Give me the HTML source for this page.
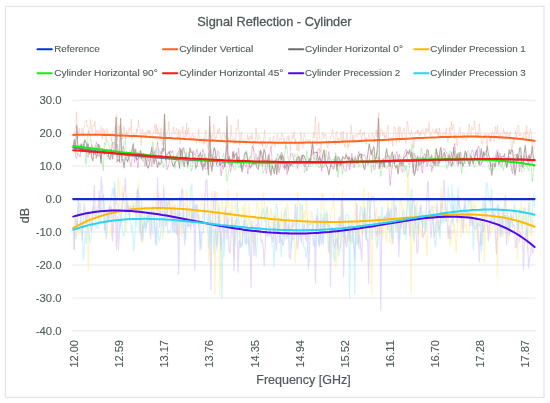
<!DOCTYPE html>
<html><head><meta charset="utf-8"><style>
html,body{margin:0;padding:0;background:#fff;}
svg{display:block;}
text{font-family:"Liberation Sans",sans-serif;fill:#505A5A;stroke:#505A5A;stroke-width:0.1px;}
.t{stroke-width:0.3px;}
.t2{stroke-width:0.2px;}
.lab text{font-size:10.4px;}
.leg text{font-size:9.8px;}
</style></head><body>
<svg width="550" height="403" viewBox="0 0 550 403">
<defs><filter id="bl" x="0" y="0" width="1" height="1"><feGaussianBlur stdDeviation="0.35"/></filter></defs>
<rect x="0" y="0" width="550" height="403" fill="#fff"/>
<rect x="5.4" y="6.4" width="538.6" height="391" fill="#fff" stroke="#E2E6E6" stroke-width="1.3"/>
<text class="t" x="197.3" y="25.8" textLength="154.3" lengthAdjust="spacingAndGlyphs" style="font-size:12.9px">Signal Reflection - Cylinder</text>
<g class="leg"><path d="M37.5 49.3H51.8" stroke="#0C30D8" stroke-width="2.1" stroke-linecap="round"/>
<text x="54.2" y="52.4" textLength="45.6" lengthAdjust="spacingAndGlyphs">Reference</text>
<path d="M163.0 49.3H177.3" stroke="#FF6420" stroke-width="2.1" stroke-linecap="round"/>
<text x="179.2" y="52.4" textLength="74.1" lengthAdjust="spacingAndGlyphs">Cylinder Vertical</text>
<path d="M289.0 49.3H303.3" stroke="#6E6E6E" stroke-width="2.1" stroke-linecap="round"/>
<text x="304.9" y="52.4" textLength="98.1" lengthAdjust="spacingAndGlyphs">Cylinder Horizontal 0°</text>
<path d="M414.3 49.3H428.6" stroke="#FFBA00" stroke-width="2.1" stroke-linecap="round"/>
<text x="430.3" y="52.4" textLength="95.5" lengthAdjust="spacingAndGlyphs">Cylinder Precession 1</text>
<path d="M37.5 73.3H51.8" stroke="#18EC18" stroke-width="2.1" stroke-linecap="round"/>
<text x="54.2" y="76.4" textLength="103.6" lengthAdjust="spacingAndGlyphs">Cylinder Horizontal 90°</text>
<path d="M163.0 73.3H177.3" stroke="#FF1616" stroke-width="2.1" stroke-linecap="round"/>
<text x="179.2" y="76.4" textLength="104.2" lengthAdjust="spacingAndGlyphs">Cylinder Horizontal 45°</text>
<path d="M289.0 73.3H303.3" stroke="#5008EE" stroke-width="2.1" stroke-linecap="round"/>
<text x="304.9" y="76.4" textLength="95.4" lengthAdjust="spacingAndGlyphs">Cylinder Precession 2</text>
<path d="M414.3 73.3H428.6" stroke="#2CD2F2" stroke-width="2.1" stroke-linecap="round"/>
<text x="430.3" y="76.4" textLength="95.5" lengthAdjust="spacingAndGlyphs">Cylinder Precession 3</text></g>
<g><path d="M72.5 100.2H535.5" stroke="#E6E8EA" stroke-width="1" fill="none"/>
<path d="M72.5 133.2H535.5" stroke="#E6E8EA" stroke-width="1" fill="none"/>
<path d="M72.5 166.1H535.5" stroke="#E6E8EA" stroke-width="1" fill="none"/>
<path d="M72.5 199.1H535.5" stroke="#E6E8EA" stroke-width="1" fill="none"/>
<path d="M72.5 232.0H535.5" stroke="#E6E8EA" stroke-width="1" fill="none"/>
<path d="M72.5 265.0H535.5" stroke="#E6E8EA" stroke-width="1" fill="none"/>
<path d="M72.5 298.0H535.5" stroke="#E6E8EA" stroke-width="1" fill="none"/>
<path d="M72.5 330.9H535.5" stroke="#E6E8EA" stroke-width="1" fill="none"/></g>
<g class="lab"><text x="39.4" y="103.9" textLength="22.2" lengthAdjust="spacingAndGlyphs">30.0</text>
<text x="39.4" y="136.9" textLength="22.2" lengthAdjust="spacingAndGlyphs">20.0</text>
<text x="39.4" y="169.8" textLength="22.2" lengthAdjust="spacingAndGlyphs">10.0</text>
<text x="45.6" y="202.8" textLength="16.0" lengthAdjust="spacingAndGlyphs">0.0</text>
<text x="35.8" y="235.7" textLength="25.8" lengthAdjust="spacingAndGlyphs">-10.0</text>
<text x="35.8" y="268.7" textLength="25.8" lengthAdjust="spacingAndGlyphs">-20.0</text>
<text x="35.8" y="301.7" textLength="25.8" lengthAdjust="spacingAndGlyphs">-30.0</text>
<text x="35.8" y="334.6" textLength="25.8" lengthAdjust="spacingAndGlyphs">-40.0</text></g>
<g class="lab"><text transform="translate(78.20 367.6) rotate(-90)" x="0" y="0" textLength="27.6" lengthAdjust="spacingAndGlyphs">12.00</text>
<text transform="translate(123.29 367.6) rotate(-90)" x="0" y="0" textLength="27.6" lengthAdjust="spacingAndGlyphs">12.59</text>
<text transform="translate(168.38 367.6) rotate(-90)" x="0" y="0" textLength="27.6" lengthAdjust="spacingAndGlyphs">13.17</text>
<text transform="translate(213.47 367.6) rotate(-90)" x="0" y="0" textLength="27.6" lengthAdjust="spacingAndGlyphs">13.76</text>
<text transform="translate(258.56 367.6) rotate(-90)" x="0" y="0" textLength="27.6" lengthAdjust="spacingAndGlyphs">14.35</text>
<text transform="translate(303.65 367.6) rotate(-90)" x="0" y="0" textLength="27.6" lengthAdjust="spacingAndGlyphs">14.94</text>
<text transform="translate(348.74 367.6) rotate(-90)" x="0" y="0" textLength="27.6" lengthAdjust="spacingAndGlyphs">15.52</text>
<text transform="translate(393.83 367.6) rotate(-90)" x="0" y="0" textLength="27.6" lengthAdjust="spacingAndGlyphs">16.11</text>
<text transform="translate(438.92 367.6) rotate(-90)" x="0" y="0" textLength="27.6" lengthAdjust="spacingAndGlyphs">16.70</text>
<text transform="translate(484.01 367.6) rotate(-90)" x="0" y="0" textLength="27.6" lengthAdjust="spacingAndGlyphs">17.28</text>
<text transform="translate(529.10 367.6) rotate(-90)" x="0" y="0" textLength="27.6" lengthAdjust="spacingAndGlyphs">17.87</text></g>
<g filter="url(#bl)"><path d="M73.2 137.4L73.9 133.8L74.5 131.7L75.2 127.3L75.8 127.9L76.5 111.6L77.2 130.1L77.8 139.0L78.5 133.1L79.1 128.0L79.8 133.1L80.5 135.2L81.1 133.6L81.8 127.9L82.4 129.0L83.1 135.6L83.8 127.3L84.4 126.6L85.1 121.7L85.7 121.2L86.4 120.0L87.1 126.5L87.7 125.4L88.4 130.4L89.0 133.6L89.7 131.7L90.4 119.4L91.0 123.4L91.7 130.7L92.3 132.7L93.0 125.0L93.7 126.1L94.3 126.2L95.0 121.2L95.6 135.5L96.3 130.9L97.0 130.1L97.6 136.5L98.3 131.6L98.9 130.3L99.6 132.6L100.3 132.9L100.9 126.5L101.6 129.7L102.2 139.2L102.9 128.1L103.6 132.8L104.2 135.1L104.9 129.6L105.5 138.0L106.2 141.1L106.9 128.4L107.5 129.9L108.2 135.5L108.8 133.0L109.5 135.4L110.2 133.9L110.8 135.7L111.5 141.3L112.1 132.8L112.8 132.0L113.5 130.9L114.1 132.2L114.8 127.2L115.4 127.0L116.1 130.4L116.8 114.6L117.4 140.7L118.1 129.1L118.7 125.7L119.4 134.1L120.1 124.7L120.7 125.8L121.4 131.3L122.0 138.9L122.7 139.5L123.4 133.1L124.0 126.0L124.7 131.0L125.3 140.0L126.0 134.8L126.7 130.6L127.3 134.2L128.0 133.5L128.6 132.0L129.3 127.4L130.0 130.6L130.6 131.2L131.3 119.0L131.9 139.5L132.6 135.0L133.3 136.7L133.9 133.5L134.6 137.9L135.2 136.2L135.9 136.5L136.6 128.8L137.2 132.2L137.9 126.3L138.5 119.6L139.2 127.3L139.9 128.7L140.5 132.5L141.2 145.4L141.8 135.4L142.5 128.9L143.2 133.5L143.8 137.0L144.5 134.4L145.1 132.7L145.8 137.1L146.5 138.5L147.1 130.4L147.8 131.4L148.4 134.3L149.1 129.3L149.8 133.1L150.4 130.9L151.1 137.1L151.8 137.9L152.4 135.5L153.1 131.9L153.7 132.6L154.4 124.6L155.1 124.2L155.7 133.8L156.4 124.8L157.0 133.8L157.7 128.4L158.4 134.3L159.0 132.6L159.7 136.7L160.3 137.6L161.0 127.8L161.7 137.5L162.3 145.3L163.0 138.4L163.6 133.7L164.3 113.3L165.0 130.1L165.6 138.4L166.3 135.4L166.9 133.8L167.6 131.4L168.3 130.5L168.9 121.6L169.6 138.6L170.2 138.0L170.9 140.0L171.6 138.2L172.2 132.4L172.9 130.3L173.5 126.8L174.2 134.5L174.9 134.1L175.5 133.6L176.2 128.5L176.8 128.7L177.5 139.6L178.2 136.9L178.8 129.3L179.5 135.3L180.1 144.0L180.8 130.4L181.5 131.7L182.1 132.7L182.8 126.2L183.4 135.7L184.1 138.2L184.8 136.8L185.4 130.1L186.1 137.0L186.7 123.0L187.4 134.6L188.1 130.9L188.7 128.0L189.4 140.4L190.0 137.6L190.7 137.1L191.4 137.5L192.0 134.7L192.7 133.4L193.3 138.9L194.0 137.1L194.7 135.6L195.3 136.9L196.0 143.0L196.6 143.5L197.3 140.8L198.0 135.5L198.6 129.1L199.3 138.6L199.9 142.3L200.6 139.1L201.3 139.8L201.9 142.7L202.6 143.6L203.2 144.2L203.9 137.7L204.6 144.0L205.2 135.3L205.9 130.0L206.5 142.3L207.2 143.3L207.9 149.2L208.5 149.8L209.2 135.9L209.8 126.8L210.5 137.9L211.2 134.9L211.8 135.5L212.5 142.2L213.1 132.1L213.8 123.7L214.5 134.3L215.1 139.1L215.8 137.2L216.4 137.9L217.1 134.2L217.8 128.8L218.4 133.8L219.1 130.6L219.7 128.0L220.4 136.9L221.1 139.5L221.7 140.4L222.4 134.7L223.0 132.9L223.7 132.1L224.4 131.8L225.0 137.5L225.7 135.4L226.3 138.6L227.0 141.3L227.7 149.6L228.3 137.0L229.0 139.8L229.6 140.6L230.3 138.6L231.0 124.8L231.6 133.2L232.3 141.5L232.9 140.5L233.6 139.3L234.3 137.9L234.9 144.1L235.6 141.9L236.2 128.3L236.9 130.4L237.6 127.8L238.2 119.2L238.9 128.7L239.5 144.6L240.2 142.8L240.9 133.7L241.5 131.9L242.2 142.6L242.8 143.0L243.5 140.1L244.2 139.3L244.8 139.5L245.5 143.6L246.1 144.2L246.8 142.0L247.5 135.0L248.1 139.5L248.8 137.5L249.4 143.3L250.1 136.1L250.8 135.9L251.4 139.3L252.1 133.2L252.7 144.9L253.4 151.2L254.1 141.1L254.7 142.4L255.4 143.6L256.0 127.9L256.7 134.6L257.4 140.2L258.0 140.1L258.7 134.8L259.3 135.9L260.0 138.4L260.7 145.3L261.3 144.5L262.0 140.7L262.6 147.5L263.3 141.0L264.0 136.7L264.6 130.1L265.3 143.3L265.9 148.6L266.6 146.9L267.3 145.6L267.9 142.2L268.6 141.4L269.2 139.4L269.9 137.2L270.6 139.9L271.2 147.7L271.9 146.6L272.5 141.2L273.2 137.1L273.9 135.6L274.5 146.5L275.2 146.6L275.8 141.7L276.5 138.6L277.2 133.9L277.8 137.1L278.5 144.3L279.1 140.4L279.8 138.1L280.5 138.6L281.1 140.2L281.8 132.6L282.4 135.1L283.1 135.4L283.8 142.5L284.4 138.6L285.1 141.2L285.7 148.6L286.4 142.4L287.1 136.5L287.7 135.8L288.4 140.7L289.0 135.3L289.7 140.1L290.4 151.3L291.0 143.9L291.7 138.6L292.3 134.6L293.0 139.2L293.7 134.9L294.3 131.7L295.0 143.8L295.6 138.9L296.3 143.3L297.0 150.4L297.6 145.2L298.3 143.6L298.9 151.2L299.6 144.0L300.3 136.8L300.9 132.1L301.6 137.1L302.2 147.6L302.9 148.5L303.6 137.9L304.2 133.6L304.9 135.6L305.6 140.3L306.2 139.8L306.9 140.7L307.5 142.1L308.2 139.4L308.9 139.2L309.5 141.0L310.2 140.2L310.8 142.3L311.5 150.5L312.2 147.6L312.8 141.8L313.5 131.9L314.1 137.8L314.8 131.4L315.5 116.2L316.1 140.7L316.8 145.5L317.4 140.9L318.1 131.2L318.8 122.4L319.4 135.7L320.1 141.4L320.7 152.5L321.4 146.5L322.1 136.5L322.7 132.2L323.4 136.7L324.0 138.8L324.7 133.7L325.4 135.2L326.0 134.4L326.7 142.4L327.3 147.7L328.0 147.6L328.7 140.0L329.3 141.0L330.0 140.3L330.6 137.4L331.3 137.0L332.0 132.3L332.6 129.3L333.3 139.9L333.9 140.5L334.6 140.1L335.3 144.9L335.9 133.4L336.6 131.3L337.2 138.3L337.9 141.7L338.6 138.5L339.2 143.5L339.9 142.9L340.5 133.8L341.2 131.7L341.9 140.9L342.5 143.5L343.2 131.0L343.8 141.1L344.5 145.4L345.2 147.2L345.8 140.5L346.5 136.7L347.1 132.8L347.8 148.7L348.5 144.4L349.1 146.4L349.8 139.7L350.4 138.1L351.1 124.8L351.8 132.9L352.4 142.7L353.1 135.1L353.7 141.0L354.4 143.1L355.1 134.4L355.7 133.7L356.4 135.2L357.0 137.3L357.7 135.9L358.4 133.2L359.0 135.0L359.7 132.7L360.3 129.6L361.0 135.1L361.7 142.7L362.3 133.1L363.0 134.6L363.6 135.2L364.3 131.9L365.0 140.1L365.6 137.8L366.3 144.3L366.9 138.0L367.6 138.1L368.3 138.0L368.9 133.8L369.6 139.1L370.2 138.7L370.9 140.6L371.6 139.2L372.2 132.5L372.9 134.7L373.5 137.9L374.2 142.7L374.9 135.7L375.5 135.4L376.2 129.2L376.8 136.7L377.5 134.0L378.2 126.1L378.8 112.5L379.5 142.9L380.1 132.8L380.8 128.4L381.5 131.1L382.1 130.1L382.8 136.5L383.4 134.3L384.1 131.8L384.8 138.4L385.4 135.0L386.1 137.5L386.7 133.5L387.4 128.8L388.1 125.1L388.7 141.7L389.4 140.1L390.0 137.4L390.7 137.4L391.4 137.7L392.0 137.6L392.7 146.4L393.3 136.4L394.0 126.6L394.7 128.0L395.3 127.7L396.0 137.1L396.6 142.6L397.3 133.9L398.0 127.4L398.6 126.8L399.3 142.5L399.9 126.1L400.6 132.1L401.3 132.5L401.9 138.9L402.6 133.6L403.2 132.3L403.9 128.2L404.6 127.8L405.2 140.7L405.9 143.7L406.5 136.2L407.2 121.0L407.9 124.7L408.5 129.5L409.2 134.9L409.8 135.5L410.5 135.3L411.2 130.2L411.8 132.8L412.5 135.5L413.1 142.1L413.8 148.2L414.5 139.7L415.1 131.6L415.8 133.5L416.4 132.5L417.1 130.0L417.8 133.5L418.4 130.3L419.1 136.0L419.7 136.5L420.4 131.8L421.1 135.2L421.7 131.4L422.4 129.0L423.0 131.9L423.7 132.1L424.4 135.1L425.0 135.8L425.7 127.8L426.3 132.2L427.0 128.8L427.7 128.8L428.3 132.2L429.0 122.0L429.6 130.4L430.3 136.0L431.0 134.6L431.6 132.5L432.3 132.1L432.9 129.2L433.6 131.2L434.3 131.5L434.9 134.0L435.6 129.2L436.2 133.0L436.9 128.3L437.6 134.4L438.2 132.2L438.9 136.4L439.5 127.9L440.2 132.9L440.9 137.0L441.5 136.6L442.2 137.2L442.8 132.3L443.5 131.7L444.2 137.0L444.8 138.2L445.5 136.6L446.1 127.5L446.8 133.4L447.5 141.5L448.1 142.3L448.8 138.0L449.4 127.3L450.1 135.2L450.8 136.0L451.4 121.5L452.1 130.0L452.7 127.9L453.4 124.3L454.1 128.0L454.7 139.0L455.4 135.6L456.0 134.7L456.7 143.5L457.4 146.4L458.0 137.6L458.7 132.8L459.4 127.4L460.0 127.7L460.7 134.6L461.3 137.2L462.0 135.7L462.7 139.3L463.3 132.8L464.0 132.0L464.6 137.6L465.3 138.8L466.0 140.8L466.6 138.7L467.3 133.6L467.9 135.1L468.6 130.1L469.3 123.6L469.9 132.9L470.6 135.3L471.2 135.5L471.9 126.5L472.6 128.1L473.2 130.3L473.9 128.4L474.5 120.9L475.2 126.9L475.9 137.7L476.5 138.2L477.2 132.1L477.8 132.6L478.5 137.8L479.2 123.7L479.8 126.8L480.5 136.5L481.1 138.9L481.8 144.2L482.5 144.0L483.1 138.5L483.8 136.5L484.4 138.9L485.1 133.5L485.8 132.8L486.4 138.7L487.1 146.2L487.7 138.4L488.4 133.7L489.1 133.6L489.7 141.5L490.4 137.6L491.0 141.6L491.7 133.3L492.4 131.2L493.0 133.1L493.7 137.9L494.3 141.6L495.0 129.7L495.7 126.4L496.3 134.1L497.0 132.3L497.6 125.6L498.3 136.1L499.0 139.8L499.6 138.5L500.3 133.7L500.9 138.8L501.6 136.3L502.3 139.8L502.9 133.2L503.6 128.6L504.2 134.0L504.9 132.2L505.6 136.8L506.2 138.2L506.9 131.4L507.5 133.4L508.2 133.8L508.9 139.1L509.5 134.6L510.2 131.8L510.8 140.4L511.5 149.6L512.2 151.0L512.8 141.0L513.5 137.0L514.1 143.9L514.8 139.1L515.5 130.9L516.1 134.2L516.8 138.6L517.4 126.3L518.1 126.1L518.8 125.2L519.4 136.1L520.1 134.3L520.7 133.9L521.4 137.3L522.1 140.2L522.7 136.6L523.4 138.4L524.0 133.7L524.7 133.0L525.4 131.1L526.0 140.1L526.7 125.6L527.3 133.6L528.0 133.8L528.7 135.5L529.3 140.4L530.0 131.5L530.6 128.7L531.3 133.4L532.0 149.4L532.6 148.9L533.3 139.9L533.9 141.4L534.6 150.1" stroke="#F8A890" stroke-opacity="0.36" stroke-width="1.0" fill="none"/>
<path d="M73.2 142.8L74.4 141.0L75.5 149.0L76.7 154.1L77.8 154.6L79.0 145.2L80.1 144.5L81.3 152.5L82.5 146.5L83.6 141.6L84.8 150.0L85.9 164.3L87.1 151.1L88.2 131.0L89.4 133.4L90.5 139.0L91.7 145.0L92.9 151.5L94.0 149.6L95.2 144.7L96.3 148.0L97.5 144.4L98.6 146.5L99.8 145.9L101.0 162.3L102.1 161.3L103.3 170.8L104.4 142.5L105.6 145.2L106.7 140.3L107.9 142.1L109.0 144.7L110.2 153.5L111.4 151.0L112.5 145.7L113.7 141.9L114.8 141.4L116.0 147.9L117.1 150.3L118.3 157.2L119.5 151.5L120.6 156.0L121.8 156.4L122.9 153.0L124.1 141.6L125.2 140.2L126.4 153.2L127.6 162.3L128.7 157.8L129.9 157.7L131.0 153.1L132.2 150.3L133.3 148.9L134.5 157.1L135.6 158.2L136.8 153.5L138.0 151.6L139.1 156.2L140.3 157.5L141.4 150.8L142.6 161.5L143.7 160.6L144.9 155.5L146.1 162.8L147.2 164.5L148.4 157.4L149.5 157.9L150.7 151.1L151.8 149.2L153.0 141.7L154.1 156.2L155.3 148.9L156.5 154.5L157.6 153.4L158.8 148.7L159.9 152.6L161.1 157.3L162.2 160.5L163.4 167.8L164.6 163.4L165.7 162.5L166.9 156.1L168.0 159.3L169.2 159.9L170.3 155.2L171.5 155.6L172.6 156.9L173.8 158.5L175.0 168.5L176.1 156.1L177.3 152.6L178.4 160.0L179.6 151.0L180.7 150.3L181.9 165.0L183.1 148.0L184.2 147.5L185.4 160.4L186.5 151.7L187.7 168.3L188.8 151.9L190.0 159.7L191.2 171.3L192.3 168.2L193.5 160.5L194.6 160.6L195.8 155.5L196.9 161.4L198.1 155.7L199.2 155.2L200.4 164.3L201.6 156.5L202.7 155.0L203.9 159.9L205.0 153.3L206.2 162.8L207.3 165.2L208.5 153.1L209.7 156.0L210.8 156.1L212.0 154.9L213.1 159.2L214.3 157.0L215.4 164.0L216.6 164.4L217.7 167.1L218.9 163.3L220.1 165.5L221.2 160.4L222.4 157.0L223.5 153.6L224.7 161.2L225.8 167.9L227.0 181.3L228.2 174.0L229.3 166.3L230.5 161.1L231.6 163.1L232.8 162.5L233.9 169.5L235.1 170.7L236.3 159.8L237.4 155.9L238.6 167.4L239.7 167.3L240.9 161.6L242.0 169.2L243.2 163.2L244.3 159.6L245.5 158.9L246.7 150.4L247.8 161.6L249.0 158.1L250.1 156.0L251.3 156.8L252.4 164.3L253.6 164.0L254.8 162.4L255.9 153.5L257.1 157.6L258.2 165.7L259.4 160.3L260.5 165.4L261.7 163.5L262.8 173.6L264.0 171.0L265.2 167.3L266.3 165.1L267.5 162.1L268.6 167.5L269.8 171.3L270.9 158.8L272.1 165.0L273.3 168.5L274.4 169.4L275.6 168.0L276.7 157.5L277.9 153.3L279.0 169.6L280.2 169.2L281.4 156.0L282.5 161.0L283.7 162.0L284.8 152.1L286.0 145.8L287.1 148.3L288.3 160.2L289.4 163.5L290.6 161.5L291.8 163.9L292.9 167.0L294.1 153.3L295.2 155.8L296.4 157.8L297.5 154.2L298.7 156.8L299.9 160.9L301.0 161.2L302.2 154.5L303.3 156.5L304.5 172.5L305.6 169.7L306.8 151.1L307.9 159.9L309.1 166.9L310.3 167.0L311.4 158.1L312.6 165.2L313.7 161.3L314.9 154.7L316.0 156.5L317.2 160.6L318.4 166.3L319.5 168.0L320.7 164.3L321.8 167.7L323.0 165.7L324.1 167.7L325.3 157.5L326.4 150.4L327.6 162.6L328.8 157.2L329.9 157.2L331.1 161.2L332.2 159.6L333.4 158.8L334.5 168.7L335.7 152.6L336.9 160.4L338.0 177.1L339.2 168.6L340.3 162.3L341.5 166.1L342.6 174.5L343.8 160.8L345.0 159.5L346.1 161.4L347.3 164.6L348.4 164.4L349.6 166.0L350.7 161.5L351.9 161.1L353.0 158.5L354.2 156.5L355.4 159.3L356.5 160.7L357.7 155.1L358.8 167.0L360.0 165.2L361.1 153.9L362.3 163.8L363.5 160.5L364.6 162.3L365.8 162.8L366.9 162.8L368.1 163.0L369.2 158.8L370.4 160.0L371.5 172.3L372.7 154.7L373.9 155.6L375.0 163.7L376.2 156.6L377.3 150.9L378.5 168.9L379.6 164.8L380.8 176.5L382.0 169.4L383.1 162.7L384.3 163.6L385.4 167.0L386.6 168.8L387.7 166.2L388.9 162.6L390.1 164.9L391.2 168.3L392.4 168.5L393.5 157.3L394.7 154.3L395.8 160.5L397.0 157.9L398.1 156.6L399.3 154.1L400.5 156.3L401.6 161.8L402.8 166.6L403.9 162.8L405.1 171.2L406.2 165.2L407.4 176.9L408.6 173.9L409.7 165.3L410.9 158.5L412.0 143.3L413.2 151.4L414.3 160.3L415.5 170.5L416.6 157.5L417.8 166.2L419.0 163.4L420.1 162.8L421.3 147.9L422.4 153.5L423.6 158.0L424.7 162.2L425.9 161.8L427.1 153.5L428.2 161.4L429.4 165.6L430.5 164.4L431.7 166.3L432.8 167.9L434.0 162.1L435.2 151.9L436.3 148.2L437.5 162.7L438.6 166.6L439.8 161.6L440.9 157.1L442.1 158.2L443.2 159.4L444.4 157.4L445.6 154.5L446.7 168.9L447.9 166.1L449.0 156.5L450.2 150.5L451.3 151.7L452.5 161.0L453.7 165.1L454.8 160.0L456.0 158.8L457.1 157.6L458.3 152.3L459.4 163.1L460.6 164.6L461.7 173.4L462.9 161.7L464.1 156.4L465.2 163.6L466.4 160.3L467.5 151.1L468.7 150.4L469.8 157.3L471.0 161.4L472.2 159.8L473.3 164.5L474.5 167.4L475.6 163.8L476.8 160.5L477.9 158.2L479.1 161.8L480.2 166.0L481.4 162.4L482.6 162.3L483.7 159.2L484.9 151.4L486.0 150.7L487.2 161.4L488.3 164.5L489.5 169.8L490.7 164.7L491.8 165.0L493.0 169.7L494.1 169.2L495.3 159.8L496.4 157.9L497.6 160.8L498.8 155.8L499.9 160.7L501.1 167.7L502.2 161.1L503.4 170.4L504.5 164.9L505.7 159.4L506.8 159.6L508.0 157.1L509.2 162.0L510.3 163.0L511.5 170.9L512.6 169.7L513.8 166.7L514.9 162.5L516.1 154.2L517.3 158.3L518.4 157.9L519.6 165.7L520.7 165.4L521.9 172.0L523.0 171.8L524.2 170.0L525.3 167.2L526.5 165.6L527.7 168.1L528.8 170.9L530.0 163.1L531.1 165.3L532.3 181.6L533.4 171.6L534.6 163.6" stroke="#70E070" stroke-opacity="0.40" stroke-width="1.0" fill="none"/>
<path d="M73.2 148.4L74.4 145.3L75.5 156.6L76.7 158.4L77.8 153.5L79.0 154.9L80.1 157.1L81.3 145.5L82.5 146.3L83.6 144.0L84.8 148.1L85.9 147.5L87.1 156.3L88.2 157.3L89.4 148.0L90.5 148.8L91.7 144.6L92.9 148.2L94.0 154.4L95.2 154.3L96.3 141.9L97.5 144.6L98.6 156.6L99.8 154.7L101.0 158.9L102.1 148.1L103.3 151.4L104.4 150.0L105.6 151.5L106.7 155.0L107.9 157.1L109.0 151.2L110.2 152.0L111.4 146.8L112.5 142.0L113.7 152.0L114.8 154.1L116.0 144.1L117.1 144.1L118.3 150.9L119.5 161.6L120.6 163.1L121.8 160.5L122.9 146.0L124.1 148.2L125.2 155.9L126.4 157.1L127.6 157.1L128.7 153.8L129.9 162.8L131.0 166.7L132.2 157.6L133.3 148.7L134.5 162.7L135.6 156.9L136.8 159.4L138.0 168.0L139.1 154.7L140.3 153.8L141.4 153.7L142.6 156.7L143.7 158.1L144.9 166.4L146.1 163.5L147.2 156.8L148.4 161.3L149.5 157.0L150.7 152.8L151.8 166.6L153.0 157.2L154.1 151.0L155.3 154.7L156.5 150.3L157.6 141.8L158.8 156.0L159.9 154.7L161.1 151.2L162.2 152.8L163.4 150.1L164.6 148.0L165.7 154.5L166.9 169.9L168.0 167.1L169.2 162.7L170.3 150.7L171.5 152.7L172.6 150.6L173.8 158.0L175.0 158.0L176.1 156.8L177.3 156.9L178.4 154.0L179.6 147.7L180.7 156.5L181.9 151.7L183.1 147.6L184.2 152.9L185.4 153.2L186.5 157.3L187.7 164.0L188.8 162.0L190.0 160.6L191.2 160.1L192.3 162.8L193.5 150.6L194.6 155.3L195.8 154.3L196.9 149.3L198.1 155.2L199.2 156.5L200.4 160.7L201.6 166.2L202.7 149.2L203.9 152.2L205.0 169.2L206.2 168.8L207.3 169.1L208.5 163.5L209.7 151.7L210.8 149.3L212.0 160.0L213.1 166.3L214.3 158.0L215.4 156.0L216.6 160.1L217.7 150.8L218.9 153.0L220.1 167.3L221.2 175.7L222.4 165.0L223.5 169.3L224.7 161.9L225.8 154.1L227.0 145.7L228.2 159.1L229.3 160.5L230.5 171.6L231.6 168.1L232.8 162.0L233.9 151.0L235.1 163.4L236.3 162.3L237.4 158.5L238.6 148.1L239.7 159.4L240.9 168.2L242.0 159.9L243.2 159.4L244.3 162.9L245.5 166.8L246.7 163.8L247.8 174.1L249.0 164.0L250.1 156.8L251.3 156.6L252.4 145.9L253.6 149.7L254.8 164.1L255.9 165.0L257.1 157.3L258.2 160.7L259.4 151.1L260.5 154.1L261.7 163.1L262.8 166.3L264.0 158.8L265.2 164.0L266.3 173.7L267.5 163.9L268.6 164.1L269.8 154.9L270.9 146.6L272.1 159.3L273.3 163.2L274.4 162.5L275.6 158.8L276.7 158.3L277.9 165.0L279.0 172.8L280.2 164.9L281.4 152.0L282.5 163.9L283.7 168.2L284.8 166.8L286.0 164.3L287.1 174.5L288.3 168.2L289.4 164.5L290.6 153.0L291.8 153.5L292.9 156.4L294.1 159.6L295.2 163.4L296.4 158.5L297.5 168.9L298.7 160.6L299.9 156.4L301.0 161.7L302.2 155.6L303.3 161.4L304.5 166.6L305.6 164.0L306.8 171.1L307.9 167.2L309.1 163.4L310.3 157.3L311.4 150.1L312.6 153.8L313.7 158.3L314.9 158.4L316.0 164.6L317.2 150.9L318.4 149.2L319.5 148.8L320.7 164.0L321.8 171.5L323.0 157.4L324.1 154.3L325.3 163.5L326.4 161.8L327.6 161.7L328.8 151.3L329.9 162.4L331.1 166.9L332.2 165.6L333.4 169.7L334.5 163.9L335.7 160.1L336.9 165.0L338.0 166.1L339.2 161.4L340.3 161.1L341.5 158.9L342.6 164.0L343.8 168.4L345.0 170.6L346.1 171.6L347.3 158.2L348.4 156.0L349.6 170.0L350.7 163.7L351.9 153.4L353.0 164.5L354.2 168.0L355.4 156.3L356.5 162.2L357.7 157.8L358.8 151.3L360.0 156.8L361.1 158.2L362.3 154.0L363.5 156.2L364.6 154.7L365.8 158.7L366.9 161.1L368.1 165.0L369.2 160.6L370.4 152.6L371.5 150.3L372.7 156.1L373.9 169.5L375.0 169.6L376.2 159.7L377.3 164.2L378.5 157.1L379.6 163.1L380.8 161.5L382.0 166.2L383.1 166.1L384.3 160.9L385.4 161.7L386.6 155.8L387.7 159.4L388.9 166.2L390.1 185.5L391.2 175.3L392.4 162.9L393.5 155.3L394.7 163.4L395.8 154.4L397.0 151.6L398.1 160.1L399.3 154.8L400.5 165.4L401.6 170.3L402.8 172.3L403.9 155.7L405.1 151.6L406.2 149.1L407.4 158.7L408.6 164.6L409.7 163.6L410.9 162.4L412.0 157.7L413.2 173.0L414.3 153.0L415.5 156.0L416.6 167.8L417.8 171.0L419.0 160.9L420.1 156.8L421.3 166.3L422.4 173.1L423.6 156.5L424.7 153.4L425.9 159.8L427.1 166.8L428.2 158.4L429.4 160.8L430.5 159.7L431.7 171.5L432.8 168.2L434.0 159.9L435.2 157.3L436.3 164.2L437.5 165.9L438.6 155.4L439.8 162.4L440.9 152.7L442.1 151.6L443.2 150.3L444.4 148.6L445.6 151.9L446.7 152.1L447.9 159.4L449.0 164.9L450.2 160.0L451.3 152.4L452.5 160.4L453.7 150.3L454.8 143.4L456.0 157.7L457.1 164.5L458.3 166.0L459.4 160.4L460.6 151.6L461.7 158.8L462.9 160.6L464.1 156.3L465.2 153.0L466.4 153.1L467.5 160.8L468.7 160.2L469.8 163.5L471.0 153.8L472.2 149.9L473.3 152.9L474.5 160.2L475.6 154.0L476.8 154.7L477.9 146.7L479.1 146.2L480.2 157.6L481.4 164.7L482.6 154.9L483.7 151.4L484.9 160.9L486.0 158.8L487.2 154.8L488.3 160.1L489.5 161.2L490.7 165.3L491.8 166.0L493.0 157.8L494.1 156.6L495.3 158.1L496.4 151.3L497.6 149.9L498.8 161.4L499.9 152.9L501.1 159.9L502.2 163.0L503.4 158.9L504.5 161.4L505.7 162.9L506.8 166.7L508.0 160.0L509.2 156.6L510.3 157.0L511.5 168.4L512.6 173.7L513.8 156.6L514.9 154.8L516.1 154.4L517.3 157.3L518.4 160.3L519.6 172.1L520.7 155.6L521.9 159.9L523.0 164.4L524.2 156.7L525.3 156.7L526.5 156.3L527.7 158.4L528.8 165.1L530.0 154.1L531.1 162.6L532.3 161.2L533.4 166.8L534.6 166.0" stroke="#E070C0" stroke-opacity="0.45" stroke-width="1.0" fill="none"/>
<path d="M73.2 146.6L74.4 139.0L75.5 151.6L76.7 125.0L77.8 145.7L79.0 147.7L80.1 147.2L81.3 143.5L82.5 149.9L83.6 148.1L84.8 140.0L85.9 141.9L87.1 147.3L88.2 143.4L89.4 154.4L90.5 147.7L91.7 157.6L92.9 161.0L94.0 148.0L95.2 149.0L96.3 158.4L97.5 153.7L98.6 144.0L99.8 148.9L101.0 163.7L102.1 149.1L103.3 151.0L104.4 154.0L105.6 151.8L106.7 150.0L107.9 149.8L109.0 158.0L110.2 159.5L111.4 149.1L112.5 159.5L113.7 150.5L114.8 153.7L116.0 117.0L117.1 161.4L118.3 159.6L119.5 161.3L120.6 118.0L121.8 160.0L122.9 159.4L124.1 168.2L125.2 157.0L126.4 159.8L127.6 161.2L128.7 157.5L129.9 152.5L131.0 156.4L132.2 148.3L133.3 143.4L134.5 155.9L135.6 148.9L136.8 159.8L138.0 158.7L139.1 156.9L140.3 150.3L141.4 159.1L142.6 156.1L143.7 153.7L144.9 154.9L146.1 162.6L147.2 166.6L148.4 167.8L149.5 163.0L150.7 157.2L151.8 147.0L153.0 156.3L154.1 164.3L155.3 157.7L156.5 161.3L157.6 167.7L158.8 162.2L159.9 164.4L161.1 163.0L162.2 149.0L163.4 150.5L164.6 114.0L165.7 160.3L166.9 155.0L168.0 153.5L169.2 151.8L170.3 155.8L171.5 159.1L172.6 164.8L173.8 166.5L175.0 162.4L176.1 161.0L177.3 160.6L178.4 160.3L179.6 168.7L180.7 149.5L181.9 151.3L183.1 160.9L184.2 167.1L185.4 156.7L186.5 158.6L187.7 165.9L188.8 159.9L190.0 147.6L191.2 152.4L192.3 152.1L193.5 160.5L194.6 157.2L195.8 168.2L196.9 166.4L198.1 156.2L199.2 155.2L200.4 152.7L201.6 159.7L202.7 170.5L203.9 163.8L205.0 165.5L206.2 158.0L207.3 159.9L208.5 175.2L209.7 116.0L210.8 164.1L212.0 171.5L213.1 153.6L214.3 147.4L215.4 151.4L216.6 164.1L217.7 161.6L218.9 159.1L220.1 165.0L221.2 164.2L222.4 163.1L223.5 160.3L224.7 167.2L225.8 160.4L227.0 116.0L228.2 164.6L229.3 156.1L230.5 163.2L231.6 166.3L232.8 151.6L233.9 157.4L235.1 154.7L236.3 153.2L237.4 164.1L238.6 156.8L239.7 161.6L240.9 160.9L242.0 172.2L243.2 167.2L244.3 155.0L245.5 152.3L246.7 153.7L247.8 160.3L249.0 162.6L250.1 167.9L251.3 166.1L252.4 163.5L253.6 164.6L254.8 162.5L255.9 163.7L257.1 167.8L258.2 169.2L259.4 161.5L260.5 150.6L261.7 152.6L262.8 161.7L264.0 148.8L265.2 152.5L266.3 163.7L267.5 160.5L268.6 154.4L269.8 169.5L270.9 175.7L272.1 165.1L273.3 169.5L274.4 174.0L275.6 159.8L276.7 174.9L277.9 164.9L279.0 158.3L280.2 155.5L281.4 159.9L282.5 155.2L283.7 158.7L284.8 168.9L286.0 167.0L287.1 161.7L288.3 170.8L289.4 161.9L290.6 165.6L291.8 163.7L292.9 163.0L294.1 163.4L295.2 163.5L296.4 162.7L297.5 157.9L298.7 157.0L299.9 163.5L301.0 163.3L302.2 155.5L303.3 155.1L304.5 156.5L305.6 160.2L306.8 163.4L307.9 163.6L309.1 159.0L310.3 160.7L311.4 154.6L312.6 141.8L313.7 153.8L314.9 152.7L316.0 152.2L317.2 152.7L318.4 162.6L319.5 157.2L320.7 160.5L321.8 160.3L323.0 153.7L324.1 149.6L325.3 160.4L326.4 165.9L327.6 167.9L328.8 175.1L329.9 169.1L331.1 164.6L332.2 162.3L333.4 162.4L334.5 160.4L335.7 155.9L336.9 171.1L338.0 157.0L339.2 158.1L340.3 165.3L341.5 164.2L342.6 156.8L343.8 158.0L345.0 158.7L346.1 154.3L347.3 158.5L348.4 159.3L349.6 157.4L350.7 164.1L351.9 157.6L353.0 161.2L354.2 159.4L355.4 162.4L356.5 163.3L357.7 163.2L358.8 156.6L360.0 154.2L361.1 154.3L362.3 160.0L363.5 166.3L364.6 169.8L365.8 161.6L366.9 160.4L368.1 152.2L369.2 143.7L370.4 149.8L371.5 154.8L372.7 150.2L373.9 146.3L375.0 159.1L376.2 158.0L377.3 149.0L378.5 118.0L379.6 168.7L380.8 159.6L382.0 163.9L383.1 158.4L384.3 167.8L385.4 156.5L386.6 148.7L387.7 156.1L388.9 155.9L390.1 166.6L391.2 155.4L392.4 151.7L393.5 159.8L394.7 164.5L395.8 167.9L397.0 165.3L398.1 174.2L399.3 164.0L400.5 160.0L401.6 165.7L402.8 160.9L403.9 157.6L405.1 156.6L406.2 155.0L407.4 151.7L408.6 153.6L409.7 149.4L410.9 157.7L412.0 151.8L413.2 167.2L414.3 175.7L415.5 171.1L416.6 161.8L417.8 155.7L419.0 165.1L420.1 164.3L421.3 163.4L422.4 157.1L423.6 163.7L424.7 158.0L425.9 157.8L427.1 149.8L428.2 150.6L429.4 160.4L430.5 158.2L431.7 155.4L432.8 162.6L434.0 161.1L435.2 166.2L436.3 148.8L437.5 155.5L438.6 163.7L439.8 151.6L440.9 147.1L442.1 160.4L443.2 155.4L444.4 152.2L445.6 160.6L446.7 158.7L447.9 160.7L449.0 155.2L450.2 158.1L451.3 166.0L452.5 163.8L453.7 147.0L454.8 156.2L456.0 160.9L457.1 153.6L458.3 164.1L459.4 152.6L460.6 164.4L461.7 160.4L462.9 165.9L464.1 162.9L465.2 150.7L466.4 155.2L467.5 160.7L468.7 162.6L469.8 166.2L471.0 156.3L472.2 158.7L473.3 164.1L474.5 159.0L475.6 152.2L476.8 150.2L477.9 160.0L479.1 165.2L480.2 155.9L481.4 148.2L482.6 161.6L483.7 152.9L484.9 154.8L486.0 154.1L487.2 145.8L488.3 154.0L489.5 157.6L490.7 166.1L491.8 175.6L493.0 163.8L494.1 163.7L495.3 167.3L496.4 158.3L497.6 151.8L498.8 165.1L499.9 160.9L501.1 157.1L502.2 156.6L503.4 156.7L504.5 154.5L505.7 161.0L506.8 167.8L508.0 159.9L509.2 149.4L510.3 154.7L511.5 150.0L512.6 150.5L513.8 163.8L514.9 175.5L516.1 167.4L517.3 153.5L518.4 160.0L519.6 147.9L520.7 148.1L521.9 165.5L523.0 167.4L524.2 152.9L525.3 145.2L526.5 159.0L527.7 161.1L528.8 155.4L530.0 159.6L531.1 156.9L532.3 146.3L533.4 158.2L534.6 157.8" stroke="#8A7A6E" stroke-opacity="0.62" stroke-width="1.1" fill="none"/>
<path d="M73.2 245.6L74.2 250.0L75.2 211.5L76.2 220.8L77.2 221.6L78.2 235.3L79.2 232.3L80.2 222.6L81.2 224.3L82.2 228.5L83.3 225.3L84.3 219.9L85.3 218.9L86.3 226.6L87.3 210.8L88.3 271.0L89.3 218.7L90.3 213.4L91.3 225.1L92.3 208.2L93.3 206.8L94.3 206.1L95.3 219.3L96.3 215.2L97.3 215.0L98.3 221.6L99.3 200.1L100.3 212.1L101.3 209.7L102.4 208.2L103.4 212.4L104.4 223.8L105.4 228.0L106.4 239.4L107.4 226.5L108.4 209.3L109.4 204.9L110.4 218.0L111.4 235.7L112.4 226.2L113.4 207.9L114.4 212.2L115.4 216.8L116.4 213.9L117.4 203.3L118.4 177.5L119.4 190.3L120.4 220.4L121.5 219.7L122.5 186.3L123.5 197.8L124.5 202.2L125.5 222.8L126.5 232.2L127.5 197.1L128.5 212.2L129.5 205.3L130.5 211.7L131.5 213.1L132.5 195.8L133.5 210.2L134.5 201.5L135.5 217.0L136.5 217.6L137.5 197.2L138.5 181.6L139.5 217.1L140.6 235.1L141.6 202.4L142.6 243.4L143.6 220.1L144.6 206.8L145.6 206.1L146.6 216.1L147.6 223.5L148.6 218.4L149.6 204.7L150.6 221.9L151.6 230.7L152.6 200.6L153.6 197.6L154.6 195.4L155.6 203.3L156.6 216.2L157.6 213.2L158.6 202.5L159.6 195.2L160.7 213.3L161.7 211.9L162.7 239.3L163.7 211.9L164.7 212.7L165.7 213.4L166.7 199.6L167.7 219.7L168.7 217.7L169.7 198.6L170.7 199.4L171.7 218.4L172.7 200.1L173.7 217.5L174.7 224.6L175.7 209.4L176.7 222.9L177.7 237.1L178.7 226.0L179.8 214.4L180.8 231.6L181.8 237.3L182.8 214.1L183.8 201.3L184.8 205.5L185.8 203.2L186.8 189.4L187.8 211.3L188.8 215.8L189.8 211.3L190.8 226.8L191.8 211.5L192.8 205.9L193.8 212.9L194.8 206.7L195.8 206.4L196.8 218.7L197.8 214.8L198.9 226.1L199.9 209.6L200.9 208.7L201.9 195.3L202.9 201.2L203.9 202.1L204.9 223.1L205.9 228.0L206.9 221.8L207.9 236.2L208.9 262.6L209.9 228.7L210.9 208.0L211.9 190.9L212.9 203.2L213.9 207.9L214.9 294.6L215.9 205.2L216.9 191.4L218.0 220.5L219.0 208.2L220.0 296.8L221.0 215.8L222.0 197.3L223.0 214.6L224.0 229.9L225.0 215.4L226.0 199.1L227.0 207.9L228.0 189.3L229.0 219.5L230.0 223.0L231.0 205.9L232.0 199.4L233.0 216.0L234.0 257.7L235.0 208.6L236.0 200.6L237.1 190.9L238.1 212.8L239.1 221.2L240.1 243.1L241.1 227.5L242.1 209.8L243.1 204.8L244.1 221.8L245.1 201.8L246.1 215.4L247.1 223.7L248.1 224.5L249.1 202.8L250.1 223.8L251.1 245.1L252.1 222.6L253.1 220.6L254.1 244.4L255.1 220.2L256.2 210.7L257.2 201.5L258.2 208.6L259.2 215.8L260.2 212.3L261.2 220.5L262.2 199.9L263.2 192.7L264.2 198.6L265.2 220.1L266.2 216.2L267.2 205.4L268.2 221.4L269.2 229.3L270.2 213.2L271.2 207.0L272.2 223.2L273.2 239.6L274.2 211.4L275.3 217.2L276.3 220.5L277.3 232.6L278.3 215.9L279.3 225.0L280.3 230.2L281.3 210.4L282.3 226.5L283.3 237.1L284.3 209.8L285.3 236.0L286.3 218.4L287.3 202.5L288.3 211.1L289.3 232.8L290.3 232.1L291.3 223.0L292.3 236.4L293.3 233.8L294.4 239.9L295.4 262.9L296.4 240.1L297.4 191.3L298.4 200.2L299.4 205.5L300.4 215.8L301.4 222.9L302.4 207.1L303.4 223.0L304.4 211.3L305.4 217.5L306.4 196.5L307.4 217.5L308.4 227.8L309.4 221.6L310.4 225.1L311.4 211.1L312.4 214.9L313.4 233.9L314.5 241.0L315.5 233.8L316.5 221.2L317.5 215.5L318.5 232.8L319.5 236.2L320.5 219.9L321.5 193.0L322.5 198.2L323.5 193.2L324.5 225.4L325.5 231.8L326.5 214.0L327.5 214.1L328.5 251.9L329.5 252.6L330.5 213.0L331.5 212.2L332.5 208.5L333.6 193.4L334.6 213.5L335.6 269.1L336.6 255.8L337.6 232.0L338.6 217.6L339.6 222.0L340.6 252.8L341.6 210.3L342.6 189.9L343.6 233.4L344.6 236.8L345.6 243.2L346.6 234.5L347.6 241.3L348.6 223.2L349.6 224.0L350.6 243.8L351.6 243.7L352.7 222.1L353.7 229.7L354.7 218.8L355.7 199.7L356.7 219.0L357.7 241.8L358.7 240.4L359.7 210.9L360.7 224.1L361.7 234.9L362.7 219.6L363.7 187.4L364.7 221.5L365.7 238.2L366.7 232.5L367.7 202.4L368.7 191.5L369.7 224.0L370.7 236.8L371.8 294.6L372.8 226.5L373.8 223.8L374.8 216.1L375.8 213.0L376.8 207.5L377.8 246.2L378.8 216.5L379.8 232.2L380.8 234.8L381.8 214.2L382.8 237.6L383.8 217.2L384.8 218.2L385.8 235.8L386.8 242.2L387.8 199.9L388.8 218.0L389.8 240.7L390.9 244.7L391.9 200.3L392.9 196.7L393.9 213.4L394.9 212.6L395.9 232.7L396.9 218.5L397.9 229.7L398.9 233.2L399.9 203.7L400.9 196.8L401.9 206.2L402.9 216.4L403.9 231.1L404.9 221.9L405.9 228.1L406.9 203.8L407.9 171.5L408.9 194.3L410.0 221.2L411.0 294.6L412.0 202.5L413.0 216.2L414.0 244.0L415.0 227.9L416.0 207.3L417.0 201.8L418.0 236.2L419.0 228.6L420.0 224.1L421.0 235.7L422.0 237.6L423.0 211.6L424.0 222.6L425.0 232.8L426.0 237.8L427.0 256.6L428.0 215.3L429.1 211.5L430.1 208.9L431.1 222.0L432.1 212.3L433.1 216.5L434.1 204.4L435.1 207.2L436.1 210.2L437.1 211.7L438.1 218.6L439.1 235.7L440.1 211.3L441.1 187.9L442.1 216.0L443.1 214.2L444.1 208.0L445.1 203.1L446.1 222.2L447.1 209.8L448.2 215.5L449.2 232.7L450.2 246.4L451.2 239.9L452.2 229.9L453.2 234.7L454.2 223.3L455.2 237.5L456.2 253.9L457.2 229.8L458.2 220.5L459.2 208.6L460.2 224.8L461.2 237.2L462.2 209.5L463.2 219.5L464.2 223.3L465.2 227.2L466.2 223.6L467.2 230.2L468.3 234.4L469.3 232.1L470.3 203.0L471.3 216.4L472.3 220.5L473.3 201.1L474.3 216.6L475.3 202.2L476.3 217.6L477.3 241.7L478.3 219.4L479.3 223.5L480.3 226.6L481.3 226.2L482.3 202.6L483.3 214.6L484.3 262.2L485.3 225.7L486.3 220.4L487.4 229.5L488.4 226.1L489.4 226.2L490.4 237.4L491.4 227.0L492.4 229.9L493.4 225.5L494.4 224.6L495.4 215.3L496.4 223.3L497.4 277.0L498.4 223.9L499.4 226.8L500.4 227.8L501.4 206.8L502.4 215.5L503.4 236.7L504.4 220.5L505.4 193.5L506.5 210.3L507.5 212.3L508.5 241.8L509.5 230.6L510.5 219.3L511.5 212.1L512.5 219.3L513.5 215.0L514.5 206.0L515.5 214.6L516.5 210.8L517.5 261.1L518.5 215.5L519.5 214.0L520.5 213.4L521.5 201.4L522.5 234.9L523.5 207.7L524.5 228.6L525.6 215.5L526.6 216.7L527.6 253.0L528.6 212.8L529.6 195.5L530.6 233.5L531.6 236.4L532.6 220.9L533.6 223.2L534.6 216.9" stroke="#FFE27A" stroke-opacity="0.42" stroke-width="1.2" fill="none"/>
<path d="M73.2 231.4L74.2 249.9L75.2 219.2L76.2 222.3L77.2 227.2L78.2 198.6L79.2 213.3L80.2 217.5L81.2 231.0L82.2 240.4L83.3 215.4L84.3 203.3L85.3 213.5L86.3 224.3L87.3 213.4L88.3 210.2L89.3 221.2L90.3 223.2L91.3 231.3L92.3 224.1L93.3 203.7L94.3 185.1L95.3 212.3L96.3 214.0L97.3 206.4L98.3 206.9L99.3 190.7L100.3 211.9L101.3 176.8L102.4 190.6L103.4 198.3L104.4 230.1L105.4 229.7L106.4 212.2L107.4 212.8L108.4 222.4L109.4 206.9L110.4 213.4L111.4 205.9L112.4 241.4L113.4 228.7L114.4 187.1L115.4 209.4L116.4 250.1L117.4 216.1L118.4 250.3L119.4 233.3L120.4 224.3L121.5 211.0L122.5 204.8L123.5 194.4L124.5 190.5L125.5 177.6L126.5 213.0L127.5 204.7L128.5 209.5L129.5 218.8L130.5 206.0L131.5 208.8L132.5 211.5L133.5 205.5L134.5 210.0L135.5 213.6L136.5 199.9L137.5 189.5L138.5 193.6L139.5 209.1L140.6 231.7L141.6 241.1L142.6 226.8L143.6 227.6L144.6 221.2L145.6 228.7L146.6 222.5L147.6 219.8L148.6 212.9L149.6 229.3L150.6 238.8L151.6 211.2L152.6 206.8L153.6 207.1L154.6 223.4L155.6 244.7L156.6 222.8L157.6 177.4L158.6 205.5L159.6 227.5L160.7 197.9L161.7 201.9L162.7 213.6L163.7 185.9L164.7 210.2L165.7 226.6L166.7 222.7L167.7 204.7L168.7 201.0L169.7 204.4L170.7 219.5L171.7 208.0L172.7 230.4L173.7 232.4L174.7 204.2L175.7 226.0L176.7 235.0L177.7 212.6L178.7 275.0L179.8 196.0L180.8 209.9L181.8 188.7L182.8 190.4L183.8 230.8L184.8 245.2L185.8 223.9L186.8 205.6L187.8 226.4L188.8 226.2L189.8 223.4L190.8 230.7L191.8 211.4L192.8 224.8L193.8 199.3L194.8 271.0L195.8 211.2L196.8 203.9L197.8 209.7L198.9 227.8L199.9 237.3L200.9 249.4L201.9 232.6L202.9 233.1L203.9 225.7L204.9 198.4L205.9 181.5L206.9 179.1L207.9 208.7L208.9 221.3L209.9 221.4L210.9 290.0L211.9 223.5L212.9 210.7L213.9 199.3L214.9 191.1L215.9 229.3L216.9 245.8L218.0 221.9L219.0 213.9L220.0 230.5L221.0 250.4L222.0 229.4L223.0 225.4L224.0 243.5L225.0 212.2L226.0 206.6L227.0 239.8L228.0 218.2L229.0 250.9L230.0 253.4L231.0 236.6L232.0 217.2L233.0 233.7L234.0 271.0L235.0 226.4L236.0 220.1L237.1 217.8L238.1 272.8L239.1 240.4L240.1 248.5L241.1 244.0L242.1 244.6L243.1 227.8L244.1 220.3L245.1 243.1L246.1 244.3L247.1 223.8L248.1 232.1L249.1 245.1L250.1 245.7L251.1 288.0L252.1 225.2L253.1 233.2L254.1 256.3L255.1 244.6L256.2 224.0L257.2 231.9L258.2 218.1L259.2 227.0L260.2 229.7L261.2 242.8L262.2 239.9L263.2 246.8L264.2 266.1L265.2 244.8L266.2 220.4L267.2 236.8L268.2 234.7L269.2 234.2L270.2 226.0L271.2 236.4L272.2 237.7L273.2 243.0L274.2 216.1L275.3 236.1L276.3 250.9L277.3 233.6L278.3 219.2L279.3 243.3L280.3 233.1L281.3 242.3L282.3 240.5L283.3 246.4L284.3 238.6L285.3 219.3L286.3 239.7L287.3 234.7L288.3 224.2L289.3 256.6L290.3 258.4L291.3 247.0L292.3 220.7L293.3 227.5L294.4 222.5L295.4 204.1L296.4 231.8L297.4 249.2L298.4 242.1L299.4 230.2L300.4 234.0L301.4 243.5L302.4 224.4L303.4 235.3L304.4 224.3L305.4 239.2L306.4 241.6L307.4 218.5L308.4 270.0L309.4 252.6L310.4 232.4L311.4 232.9L312.4 226.3L313.4 245.5L314.5 240.6L315.5 283.7L316.5 215.1L317.5 222.4L318.5 242.3L319.5 247.2L320.5 220.2L321.5 244.6L322.5 239.8L323.5 217.5L324.5 227.5L325.5 225.3L326.5 221.0L327.5 220.5L328.5 227.0L329.5 225.1L330.5 287.0L331.5 227.7L332.5 228.5L333.6 243.9L334.6 246.4L335.6 243.1L336.6 237.8L337.6 249.3L338.6 235.4L339.6 216.2L340.6 229.1L341.6 197.9L342.6 208.4L343.6 277.0L344.6 226.5L345.6 244.0L346.6 247.5L347.6 236.1L348.6 225.6L349.6 241.5L350.6 228.0L351.6 219.8L352.7 236.4L353.7 241.9L354.7 259.4L355.7 239.4L356.7 203.1L357.7 225.1L358.7 249.1L359.7 234.4L360.7 247.4L361.7 261.2L362.7 230.9L363.7 217.3L364.7 208.3L365.7 226.4L366.7 240.1L367.7 239.6L368.7 283.7L369.7 209.0L370.7 203.2L371.8 196.4L372.8 198.5L373.8 197.0L374.8 213.4L375.8 230.1L376.8 236.5L377.8 229.2L378.8 216.5L379.8 220.6L380.8 310.7L381.8 224.6L382.8 224.0L383.8 220.8L384.8 215.5L385.8 221.1L386.8 212.5L387.8 230.1L388.8 210.2L389.8 219.3L390.9 208.6L391.9 233.8L392.9 243.9L393.9 217.9L394.9 211.5L395.9 204.9L396.9 214.2L397.9 227.0L398.9 257.5L399.9 220.6L400.9 228.8L401.9 221.9L402.9 221.1L403.9 234.2L404.9 233.6L405.9 229.7L406.9 220.8L407.9 219.1L408.9 222.2L410.0 236.6L411.0 208.8L412.0 204.1L413.0 200.5L414.0 199.2L415.0 218.4L416.0 228.3L417.0 253.9L418.0 250.3L419.0 212.4L420.0 212.2L421.0 204.6L422.0 217.0L423.0 237.7L424.0 234.1L425.0 233.2L426.0 221.8L427.0 191.7L428.0 180.3L429.1 203.8L430.1 224.5L431.1 237.7L432.1 221.2L433.1 216.2L434.1 237.7L435.1 232.6L436.1 223.2L437.1 202.6L438.1 224.0L439.1 229.3L440.1 224.5L441.1 203.0L442.1 208.6L443.1 194.7L444.1 179.9L445.1 200.8L446.1 209.6L447.1 221.2L448.2 238.9L449.2 225.5L450.2 239.4L451.2 220.6L452.2 222.7L453.2 205.3L454.2 210.2L455.2 213.5L456.2 212.0L457.2 223.0L458.2 196.4L459.2 206.2L460.2 207.2L461.2 213.3L462.2 222.8L463.2 233.1L464.2 210.0L465.2 200.1L466.2 217.0L467.2 212.4L468.3 219.0L469.3 210.0L470.3 226.2L471.3 213.6L472.3 226.4L473.3 219.9L474.3 228.9L475.3 228.9L476.3 226.5L477.3 223.3L478.3 235.4L479.3 262.0L480.3 232.6L481.3 245.5L482.3 221.7L483.3 232.4L484.3 229.7L485.3 202.1L486.3 217.6L487.4 221.6L488.4 241.8L489.4 226.3L490.4 219.5L491.4 225.7L492.4 199.7L493.4 217.3L494.4 213.9L495.4 235.4L496.4 254.5L497.4 235.0L498.4 204.4L499.4 217.4L500.4 229.1L501.4 236.4L502.4 227.3L503.4 209.7L504.4 217.9L505.4 215.0L506.5 245.1L507.5 231.1L508.5 216.4L509.5 235.8L510.5 214.1L511.5 217.2L512.5 226.8L513.5 224.8L514.5 226.2L515.5 247.5L516.5 247.3L517.5 229.6L518.5 220.9L519.5 242.5L520.5 232.7L521.5 233.8L522.5 237.8L523.5 270.6L524.5 240.2L525.6 236.8L526.6 228.6L527.6 240.4L528.6 268.8L529.6 259.2L530.6 254.5L531.6 241.5L532.6 254.0L533.6 250.1L534.6 247.6" stroke="#C8ACF4" stroke-opacity="0.42" stroke-width="1.2" fill="none"/>
<path d="M73.2 233.2L74.2 233.8L75.2 234.8L76.2 238.7L77.2 218.5L78.2 210.8L79.2 204.8L80.2 202.4L81.2 217.3L82.2 230.3L83.3 261.1L84.3 249.4L85.3 229.7L86.3 244.1L87.3 225.2L88.3 224.9L89.3 239.7L90.3 242.2L91.3 234.7L92.3 222.4L93.3 205.9L94.3 213.9L95.3 215.0L96.3 228.4L97.3 225.8L98.3 229.3L99.3 205.7L100.3 224.7L101.3 217.7L102.4 196.7L103.4 194.3L104.4 205.0L105.4 232.1L106.4 237.9L107.4 213.8L108.4 214.8L109.4 220.3L110.4 200.1L111.4 198.0L112.4 188.2L113.4 196.3L114.4 180.8L115.4 193.1L116.4 203.1L117.4 203.9L118.4 204.3L119.4 229.5L120.4 222.8L121.5 220.6L122.5 230.9L123.5 236.0L124.5 234.0L125.5 216.7L126.5 202.0L127.5 202.3L128.5 208.2L129.5 216.2L130.5 218.1L131.5 232.6L132.5 224.7L133.5 251.4L134.5 243.7L135.5 219.4L136.5 226.8L137.5 187.5L138.5 218.1L139.5 233.0L140.6 226.6L141.6 199.8L142.6 240.3L143.6 231.7L144.6 215.4L145.6 232.3L146.6 223.6L147.6 206.7L148.6 221.8L149.6 210.1L150.6 221.9L151.6 225.4L152.6 234.3L153.6 210.7L154.6 227.2L155.6 230.8L156.6 246.2L157.6 223.4L158.6 238.8L159.6 240.1L160.7 233.9L161.7 215.0L162.7 221.8L163.7 231.6L164.7 213.1L165.7 199.4L166.7 202.3L167.7 233.4L168.7 231.1L169.7 232.8L170.7 229.6L171.7 223.3L172.7 223.6L173.7 216.2L174.7 233.2L175.7 230.3L176.7 224.3L177.7 204.1L178.7 215.6L179.8 213.9L180.8 212.4L181.8 230.8L182.8 217.4L183.8 211.4L184.8 227.8L185.8 239.9L186.8 222.0L187.8 222.1L188.8 227.1L189.8 208.9L190.8 187.0L191.8 183.3L192.8 217.2L193.8 227.1L194.8 205.5L195.8 205.4L196.8 213.0L197.8 215.2L198.9 219.8L199.9 250.6L200.9 226.8L201.9 219.6L202.9 214.0L203.9 210.0L204.9 207.8L205.9 214.6L206.9 214.8L207.9 224.4L208.9 248.7L209.9 213.6L210.9 242.6L211.9 221.2L212.9 221.1L213.9 254.1L214.9 229.0L215.9 236.7L216.9 251.1L218.0 238.0L219.0 203.2L220.0 231.1L221.0 235.2L222.0 299.0L223.0 238.0L224.0 257.6L225.0 234.3L226.0 225.3L227.0 228.9L228.0 215.3L229.0 213.8L230.0 211.6L231.0 211.0L232.0 223.9L233.0 225.2L234.0 227.6L235.0 246.6L236.0 233.3L237.1 202.1L238.1 211.2L239.1 226.0L240.1 240.5L241.1 246.8L242.1 245.9L243.1 230.4L244.1 234.1L245.1 213.1L246.1 234.8L247.1 244.3L248.1 237.0L249.1 255.7L250.1 226.2L251.1 219.8L252.1 231.0L253.1 225.8L254.1 232.2L255.1 241.5L256.2 257.8L257.2 240.9L258.2 227.1L259.2 230.5L260.2 230.4L261.2 227.6L262.2 214.1L263.2 207.7L264.2 214.7L265.2 221.7L266.2 212.1L267.2 206.7L268.2 218.2L269.2 237.0L270.2 231.7L271.2 236.9L272.2 246.2L273.2 245.6L274.2 268.0L275.3 221.8L276.3 203.2L277.3 209.1L278.3 231.4L279.3 218.9L280.3 240.2L281.3 256.9L282.3 234.4L283.3 239.4L284.3 217.8L285.3 207.5L286.3 218.6L287.3 238.1L288.3 234.6L289.3 217.9L290.3 249.8L291.3 246.5L292.3 235.7L293.3 240.7L294.4 236.8L295.4 228.4L296.4 221.6L297.4 205.7L298.4 238.9L299.4 231.7L300.4 203.1L301.4 209.7L302.4 204.6L303.4 245.5L304.4 247.6L305.4 250.5L306.4 257.8L307.4 246.7L308.4 241.1L309.4 224.5L310.4 224.4L311.4 221.8L312.4 226.7L313.4 221.3L314.5 241.7L315.5 247.8L316.5 233.4L317.5 207.8L318.5 227.9L319.5 245.5L320.5 234.5L321.5 213.1L322.5 227.1L323.5 245.8L324.5 211.8L325.5 224.5L326.5 209.8L327.5 218.8L328.5 252.1L329.5 241.6L330.5 235.9L331.5 228.1L332.5 226.9L333.6 258.9L334.6 260.9L335.6 233.3L336.6 221.9L337.6 226.4L338.6 256.7L339.6 245.2L340.6 247.5L341.6 230.8L342.6 209.6L343.6 236.9L344.6 239.1L345.6 217.4L346.6 214.0L347.6 214.7L348.6 215.6L349.6 299.0L350.6 232.9L351.6 239.8L352.7 242.1L353.7 228.9L354.7 294.6L355.7 231.2L356.7 242.8L357.7 244.5L358.7 236.3L359.7 220.4L360.7 206.8L361.7 208.3L362.7 212.8L363.7 225.7L364.7 206.5L365.7 238.9L366.7 239.5L367.7 201.3L368.7 198.4L369.7 201.0L370.7 219.4L371.8 239.9L372.8 219.0L373.8 226.1L374.8 228.9L375.8 237.1L376.8 248.7L377.8 236.5L378.8 234.9L379.8 228.1L380.8 218.7L381.8 206.1L382.8 219.9L383.8 224.2L384.8 217.5L385.8 219.2L386.8 219.6L387.8 208.0L388.8 208.9L389.8 233.2L390.9 226.1L391.9 237.9L392.9 217.2L393.9 197.8L394.9 214.2L395.9 231.7L396.9 217.5L397.9 224.5L398.9 236.3L399.9 239.9L400.9 225.6L401.9 218.7L402.9 212.9L403.9 209.5L404.9 223.2L405.9 239.1L406.9 212.0L407.9 200.2L408.9 200.8L410.0 223.7L411.0 192.1L412.0 188.6L413.0 237.4L414.0 239.4L415.0 205.1L416.0 208.5L417.0 227.8L418.0 229.7L419.0 217.8L420.0 205.5L421.0 222.3L422.0 221.8L423.0 226.7L424.0 226.5L425.0 212.8L426.0 231.3L427.0 218.6L428.0 218.0L429.1 210.2L430.1 219.4L431.1 210.6L432.1 205.1L433.1 213.7L434.1 232.8L435.1 246.4L436.1 244.3L437.1 221.1L438.1 231.4L439.1 228.5L440.1 239.2L441.1 209.1L442.1 224.3L443.1 215.2L444.1 224.1L445.1 215.3L446.1 221.5L447.1 215.0L448.2 187.1L449.2 200.4L450.2 203.2L451.2 211.1L452.2 184.0L453.2 226.3L454.2 195.1L455.2 204.5L456.2 213.1L457.2 202.6L458.2 187.1L459.2 205.6L460.2 208.9L461.2 220.2L462.2 210.0L463.2 215.7L464.2 203.6L465.2 208.5L466.2 213.4L467.2 216.8L468.3 201.5L469.3 202.9L470.3 198.8L471.3 202.8L472.3 217.0L473.3 251.6L474.3 229.3L475.3 219.2L476.3 215.8L477.3 224.8L478.3 224.0L479.3 225.8L480.3 220.8L481.3 252.2L482.3 242.1L483.3 196.8L484.3 202.6L485.3 212.4L486.3 182.2L487.4 184.8L488.4 198.3L489.4 197.4L490.4 206.5L491.4 187.7L492.4 207.6L493.4 224.0L494.4 218.9L495.4 207.7L496.4 207.6L497.4 203.8L498.4 221.2L499.4 223.3L500.4 238.0L501.4 217.7L502.4 225.8L503.4 211.8L504.4 204.2L505.4 195.9L506.5 233.7L507.5 212.8L508.5 217.8L509.5 233.1L510.5 219.2L511.5 215.1L512.5 224.5L513.5 215.8L514.5 203.7L515.5 212.2L516.5 219.8L517.5 224.4L518.5 226.9L519.5 208.5L520.5 213.3L521.5 230.3L522.5 224.4L523.5 214.0L524.5 207.1L525.6 211.0L526.6 235.8L527.6 231.6L528.6 202.3L529.6 211.9L530.6 218.7L531.6 229.4L532.6 204.1L533.6 194.4L534.6 208.1" stroke="#94E4FA" stroke-opacity="0.42" stroke-width="1.2" fill="none"/></g>
<g><path d="M73.2 199.1H534.6" stroke="#0C30D8" stroke-width="2.1" fill="none" stroke-linecap="round"/>
<path d="M73.2 134.9L77.1 134.8L81.0 134.7L84.8 134.7L88.7 134.7L92.6 134.7L96.5 134.8L100.3 134.8L104.2 134.9L108.1 135.0L112.0 135.1L115.9 135.3L119.7 135.4L123.6 135.6L127.5 135.7L131.4 135.9L135.2 136.1L139.1 136.3L143.0 136.5L146.9 136.7L150.7 137.0L154.6 137.2L158.5 137.4L162.4 137.7L166.3 137.9L170.1 138.1L174.0 138.4L177.9 138.6L181.8 138.8L185.6 139.1L189.5 139.3L193.4 139.5L197.3 139.8L201.2 140.0L205.0 140.2L208.9 140.4L212.8 140.6L216.7 140.8L220.5 141.0L224.4 141.2L228.3 141.3L232.2 141.5L236.0 141.7L239.9 141.8L243.8 141.9L247.7 142.1L251.6 142.2L255.4 142.3L259.3 142.4L263.2 142.5L267.1 142.5L270.9 142.6L274.8 142.7L278.7 142.7L282.6 142.7L286.5 142.7L290.3 142.7L294.2 142.7L298.1 142.7L302.0 142.7L305.8 142.6L309.7 142.6L313.6 142.5L317.5 142.4L321.3 142.4L325.2 142.3L329.1 142.2L333.0 142.0L336.9 141.9L340.7 141.8L344.6 141.6L348.5 141.5L352.4 141.3L356.2 141.2L360.1 141.0L364.0 140.8L367.9 140.6L371.8 140.5L375.6 140.3L379.5 140.1L383.4 139.9L387.3 139.7L391.1 139.5L395.0 139.3L398.9 139.1L402.8 138.9L406.6 138.7L410.5 138.5L414.4 138.3L418.3 138.1L422.2 137.9L426.0 137.7L429.9 137.6L433.8 137.4L437.7 137.3L441.5 137.1L445.4 137.0L449.3 136.9L453.2 136.8L457.1 136.7L460.9 136.7L464.8 136.6L468.7 136.6L472.6 136.6L476.4 136.6L480.3 136.7L484.2 136.7L488.1 136.8L491.9 137.0L495.8 137.1L499.7 137.3L503.6 137.5L507.5 137.8L511.3 138.1L515.2 138.4L519.1 138.8L523.0 139.2L526.8 139.7L530.7 140.2L534.6 140.8" stroke="#FF6420" stroke-width="2" fill="none" stroke-linejoin="round" stroke-linecap="round"/>
<path d="M73.2 147.6L77.1 148.2L81.0 148.9L84.8 149.5L88.7 150.1L92.6 150.6L96.5 151.2L100.3 151.7L104.2 152.2L108.1 152.7L112.0 153.2L115.9 153.6L119.7 154.1L123.6 154.5L127.5 154.9L131.4 155.3L135.2 155.7L139.1 156.1L143.0 156.4L146.9 156.8L150.7 157.1L154.6 157.4L158.5 157.7L162.4 158.0L166.3 158.3L170.1 158.6L174.0 158.9L177.9 159.1L181.8 159.3L185.6 159.6L189.5 159.8L193.4 160.0L197.3 160.2L201.2 160.4L205.0 160.6L208.9 160.8L212.8 160.9L216.7 161.1L220.5 161.3L224.4 161.4L228.3 161.5L232.2 161.7L236.0 161.8L239.9 161.9L243.8 162.0L247.7 162.1L251.6 162.2L255.4 162.2L259.3 162.3L263.2 162.4L267.1 162.4L270.9 162.5L274.8 162.5L278.7 162.6L282.6 162.6L286.5 162.6L290.3 162.6L294.2 162.7L298.1 162.7L302.0 162.7L305.8 162.7L309.7 162.6L313.6 162.6L317.5 162.6L321.3 162.6L325.2 162.5L329.1 162.5L333.0 162.5L336.9 162.4L340.7 162.4L344.6 162.3L348.5 162.2L352.4 162.2L356.2 162.1L360.1 162.0L364.0 161.9L367.9 161.9L371.8 161.8L375.6 161.7L379.5 161.6L383.4 161.5L387.3 161.4L391.1 161.3L395.0 161.2L398.9 161.1L402.8 161.0L406.6 160.9L410.5 160.8L414.4 160.7L418.3 160.6L422.2 160.5L426.0 160.4L429.9 160.3L433.8 160.2L437.7 160.1L441.5 160.0L445.4 159.9L449.3 159.8L453.2 159.7L457.1 159.7L460.9 159.6L464.8 159.5L468.7 159.5L472.6 159.4L476.4 159.4L480.3 159.3L484.2 159.3L488.1 159.3L491.9 159.3L495.8 159.3L499.7 159.3L503.6 159.3L507.5 159.4L511.3 159.4L515.2 159.5L519.1 159.6L523.0 159.7L526.8 159.8L530.7 160.0L534.6 160.2" stroke="#707C8C" stroke-width="2" fill="none" stroke-linejoin="round" stroke-linecap="round"/>
<path d="M73.2 146.0L77.1 146.5L81.0 147.0L84.8 147.5L88.7 148.0L92.6 148.5L96.5 149.0L100.3 149.5L104.2 150.0L108.1 150.5L112.0 151.0L115.9 151.4L119.7 151.9L123.6 152.4L127.5 152.8L131.4 153.3L135.2 153.7L139.1 154.1L143.0 154.5L146.9 155.0L150.7 155.4L154.6 155.8L158.5 156.2L162.4 156.5L166.3 156.9L170.1 157.3L174.0 157.6L177.9 158.0L181.8 158.3L185.6 158.6L189.5 158.9L193.4 159.2L197.3 159.5L201.2 159.8L205.0 160.1L208.9 160.3L212.8 160.6L216.7 160.8L220.5 161.0L224.4 161.2L228.3 161.4L232.2 161.6L236.0 161.8L239.9 161.9L243.8 162.1L247.7 162.2L251.6 162.4L255.4 162.5L259.3 162.6L263.2 162.7L267.1 162.8L270.9 162.8L274.8 162.9L278.7 162.9L282.6 163.0L286.5 163.0L290.3 163.0L294.2 163.0L298.1 163.0L302.0 163.0L305.8 163.0L309.7 162.9L313.6 162.9L317.5 162.8L321.3 162.8L325.2 162.7L329.1 162.6L333.0 162.5L336.9 162.4L340.7 162.3L344.6 162.2L348.5 162.1L352.4 162.0L356.2 161.8L360.1 161.7L364.0 161.6L367.9 161.4L371.8 161.3L375.6 161.1L379.5 161.0L383.4 160.9L387.3 160.7L391.1 160.6L395.0 160.4L398.9 160.3L402.8 160.2L406.6 160.0L410.5 159.9L414.4 159.8L418.3 159.7L422.2 159.5L426.0 159.4L429.9 159.4L433.8 159.3L437.7 159.2L441.5 159.2L445.4 159.1L449.3 159.1L453.2 159.1L457.1 159.1L460.9 159.1L464.8 159.2L468.7 159.3L472.6 159.3L476.4 159.5L480.3 159.6L484.2 159.8L488.1 160.0L491.9 160.2L495.8 160.5L499.7 160.8L503.6 161.1L507.5 161.5L511.3 161.9L515.2 162.3L519.1 162.8L523.0 163.3L526.8 163.9L530.7 164.5L534.6 165.2" stroke="#18EC18" stroke-width="2" fill="none" stroke-linejoin="round" stroke-linecap="round"/>
<path d="M73.2 150.3L77.1 150.6L81.0 150.8L84.8 151.1L88.7 151.4L92.6 151.7L96.5 151.9L100.3 152.2L104.2 152.5L108.1 152.8L112.0 153.1L115.9 153.4L119.7 153.7L123.6 154.0L127.5 154.3L131.4 154.6L135.2 154.8L139.1 155.1L143.0 155.4L146.9 155.7L150.7 156.0L154.6 156.2L158.5 156.5L162.4 156.8L166.3 157.0L170.1 157.3L174.0 157.5L177.9 157.8L181.8 158.0L185.6 158.2L189.5 158.5L193.4 158.7L197.3 158.9L201.2 159.1L205.0 159.3L208.9 159.5L212.8 159.7L216.7 159.9L220.5 160.1L224.4 160.3L228.3 160.4L232.2 160.6L236.0 160.7L239.9 160.9L243.8 161.0L247.7 161.1L251.6 161.2L255.4 161.4L259.3 161.5L263.2 161.6L267.1 161.6L270.9 161.7L274.8 161.8L278.7 161.9L282.6 161.9L286.5 162.0L290.3 162.0L294.2 162.0L298.1 162.1L302.0 162.1L305.8 162.1L309.7 162.1L313.6 162.1L317.5 162.1L321.3 162.1L325.2 162.1L329.1 162.0L333.0 162.0L336.9 162.0L340.7 161.9L344.6 161.9L348.5 161.8L352.4 161.7L356.2 161.7L360.1 161.6L364.0 161.5L367.9 161.5L371.8 161.4L375.6 161.3L379.5 161.2L383.4 161.1L387.3 161.0L391.1 160.9L395.0 160.8L398.9 160.7L402.8 160.6L406.6 160.5L410.5 160.4L414.4 160.3L418.3 160.2L422.2 160.1L426.0 160.0L429.9 159.9L433.8 159.8L437.7 159.7L441.5 159.7L445.4 159.6L449.3 159.5L453.2 159.4L457.1 159.4L460.9 159.3L464.8 159.2L468.7 159.2L472.6 159.2L476.4 159.1L480.3 159.1L484.2 159.1L488.1 159.1L491.9 159.1L495.8 159.1L499.7 159.1L503.6 159.2L507.5 159.2L511.3 159.3L515.2 159.4L519.1 159.5L523.0 159.6L526.8 159.7L530.7 159.9L534.6 160.1" stroke="#FF1616" stroke-width="2" fill="none" stroke-linejoin="round" stroke-linecap="round"/>
<path d="M73.2 227.8L77.1 225.8L81.0 223.8L84.8 222.1L88.7 220.4L92.6 218.9L96.5 217.5L100.3 216.2L104.2 215.0L108.1 213.9L112.0 213.0L115.9 212.1L119.7 211.3L123.6 210.7L127.5 210.1L131.4 209.6L135.2 209.1L139.1 208.8L143.0 208.5L146.9 208.3L150.7 208.2L154.6 208.1L158.5 208.1L162.4 208.1L166.3 208.2L170.1 208.3L174.0 208.5L177.9 208.8L181.8 209.0L185.6 209.3L189.5 209.6L193.4 210.0L197.3 210.4L201.2 210.8L205.0 211.2L208.9 211.6L212.8 212.1L216.7 212.5L220.5 213.0L224.4 213.5L228.3 214.0L232.2 214.5L236.0 214.9L239.9 215.4L243.8 215.9L247.7 216.4L251.6 216.8L255.4 217.3L259.3 217.7L263.2 218.1L267.1 218.5L270.9 218.9L274.8 219.3L278.7 219.6L282.6 220.0L286.5 220.3L290.3 220.5L294.2 220.8L298.1 221.0L302.0 221.2L305.8 221.4L309.7 221.6L313.6 221.7L317.5 221.8L321.3 221.9L325.2 221.9L329.1 222.0L333.0 222.0L336.9 221.9L340.7 221.9L344.6 221.8L348.5 221.7L352.4 221.5L356.2 221.4L360.1 221.2L364.0 221.0L367.9 220.8L371.8 220.5L375.6 220.3L379.5 220.0L383.4 219.7L387.3 219.4L391.1 219.1L395.0 218.8L398.9 218.5L402.8 218.1L406.6 217.8L410.5 217.5L414.4 217.2L418.3 216.8L422.2 216.5L426.0 216.2L429.9 215.9L433.8 215.6L437.7 215.4L441.5 215.1L445.4 214.9L449.3 214.8L453.2 214.6L457.1 214.5L460.9 214.5L464.8 214.4L468.7 214.5L472.6 214.5L476.4 214.7L480.3 214.9L484.2 215.2L488.1 215.5L491.9 215.9L495.8 216.4L499.7 217.0L503.6 217.6L507.5 218.4L511.3 219.2L515.2 220.2L519.1 221.3L523.0 222.5L526.8 223.8L530.7 225.2L534.6 226.7" stroke="#FFBA00" stroke-width="2" fill="none" stroke-linejoin="round" stroke-linecap="round"/>
<path d="M73.2 216.6L77.1 215.5L81.0 214.5L84.8 213.6L88.7 212.9L92.6 212.3L96.5 211.7L100.3 211.3L104.2 211.0L108.1 210.8L112.0 210.6L115.9 210.6L119.7 210.6L123.6 210.7L127.5 210.9L131.4 211.1L135.2 211.4L139.1 211.8L143.0 212.2L146.9 212.7L150.7 213.2L154.6 213.7L158.5 214.3L162.4 215.0L166.3 215.6L170.1 216.3L174.0 217.0L177.9 217.7L181.8 218.5L185.6 219.2L189.5 220.0L193.4 220.7L197.3 221.5L201.2 222.3L205.0 223.0L208.9 223.8L212.8 224.5L216.7 225.2L220.5 225.9L224.4 226.6L228.3 227.3L232.2 227.9L236.0 228.5L239.9 229.1L243.8 229.7L247.7 230.2L251.6 230.7L255.4 231.1L259.3 231.5L263.2 231.9L267.1 232.3L270.9 232.6L274.8 232.8L278.7 233.0L282.6 233.2L286.5 233.3L290.3 233.4L294.2 233.5L298.1 233.5L302.0 233.4L305.8 233.4L309.7 233.2L313.6 233.1L317.5 232.9L321.3 232.6L325.2 232.3L329.1 232.0L333.0 231.6L336.9 231.2L340.7 230.8L344.6 230.3L348.5 229.8L352.4 229.3L356.2 228.8L360.1 228.2L364.0 227.6L367.9 227.0L371.8 226.4L375.6 225.7L379.5 225.1L383.4 224.4L387.3 223.8L391.1 223.2L395.0 222.5L398.9 221.9L402.8 221.3L406.6 220.7L410.5 220.1L414.4 219.6L418.3 219.0L422.2 218.6L426.0 218.1L429.9 217.7L433.8 217.4L437.7 217.1L441.5 216.9L445.4 216.8L449.3 216.7L453.2 216.7L457.1 216.8L460.9 217.0L464.8 217.2L468.7 217.6L472.6 218.1L476.4 218.8L480.3 219.5L484.2 220.4L488.1 221.4L491.9 222.6L495.8 223.9L499.7 225.3L503.6 227.0L507.5 228.8L511.3 230.8L515.2 233.0L519.1 235.4L523.0 238.0L526.8 240.8L530.7 243.8L534.6 247.0" stroke="#5008EE" stroke-width="2" fill="none" stroke-linejoin="round" stroke-linecap="round"/>
<path d="M73.2 229.8L77.1 228.5L81.0 227.3L84.8 226.2L88.7 225.1L92.6 224.2L96.5 223.4L100.3 222.6L104.2 221.9L108.1 221.3L112.0 220.7L115.9 220.3L119.7 219.9L123.6 219.6L127.5 219.3L131.4 219.1L135.2 218.9L139.1 218.9L143.0 218.8L146.9 218.8L150.7 218.9L154.6 219.0L158.5 219.2L162.4 219.3L166.3 219.6L170.1 219.8L174.0 220.1L177.9 220.4L181.8 220.8L185.6 221.1L189.5 221.5L193.4 221.9L197.3 222.3L201.2 222.7L205.0 223.1L208.9 223.6L212.8 224.0L216.7 224.4L220.5 224.9L224.4 225.3L228.3 225.7L232.2 226.1L236.0 226.5L239.9 226.9L243.8 227.3L247.7 227.7L251.6 228.0L255.4 228.3L259.3 228.6L263.2 228.9L267.1 229.2L270.9 229.4L274.8 229.6L278.7 229.8L282.6 229.9L286.5 230.1L290.3 230.1L294.2 230.2L298.1 230.2L302.0 230.2L305.8 230.2L309.7 230.1L313.6 230.0L317.5 229.9L321.3 229.7L325.2 229.5L329.1 229.3L333.0 229.0L336.9 228.7L340.7 228.4L344.6 228.0L348.5 227.6L352.4 227.2L356.2 226.8L360.1 226.3L364.0 225.8L367.9 225.3L371.8 224.8L375.6 224.2L379.5 223.6L383.4 223.0L387.3 222.4L391.1 221.8L395.0 221.2L398.9 220.5L402.8 219.9L406.6 219.2L410.5 218.6L414.4 217.9L418.3 217.3L422.2 216.6L426.0 216.0L429.9 215.4L433.8 214.7L437.7 214.2L441.5 213.6L445.4 213.0L449.3 212.5L453.2 212.0L457.1 211.6L460.9 211.1L464.8 210.7L468.7 210.4L472.6 210.1L476.4 209.9L480.3 209.7L484.2 209.6L488.1 209.5L491.9 209.5L495.8 209.5L499.7 209.7L503.6 209.9L507.5 210.2L511.3 210.5L515.2 211.0L519.1 211.5L523.0 212.2L526.8 212.9L530.7 213.7L534.6 214.7" stroke="#2CD2F2" stroke-width="2" fill="none" stroke-linejoin="round" stroke-linecap="round"/></g>
<text transform="translate(28.6 215.6) rotate(-90)" class="t2" text-anchor="middle" style="font-size:12.6px">dB</text>
<text class="t2" x="256.3" y="384.4" textLength="94.4" lengthAdjust="spacingAndGlyphs" style="font-size:12px">Frequency [GHz]</text>
</svg>
</body></html>
